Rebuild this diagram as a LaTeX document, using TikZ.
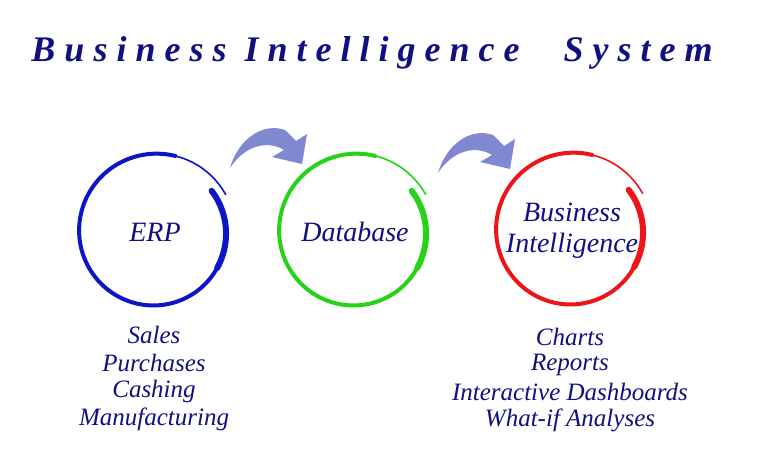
\documentclass[tikz,border=0pt]{standalone}
\usepackage{fontspec}
\setmainfont{Liberation Serif}
\definecolor{navytext}{RGB}{16,16,130}
\definecolor{ERPblue}{RGB}{12,22,200}
\definecolor{DBgreen}{RGB}{40,210,24}
\definecolor{BIred}{RGB}{236,22,26}
\definecolor{arrowblue}{RGB}{128,136,210}
\tikzset{
  label/.style={text=navytext, font=\fontsize{25}{28}\selectfont\itshape, inner sep=0pt},
  ringlabel/.style={text=navytext, font=\fontsize{28}{31}\selectfont\itshape, align=center, inner sep=0pt},
  bendarrow/.pic={
    \fill[arrowblue] (0,0) .. controls (8,-28) and (32,-46) .. (55,-38) -- (66,-27)
      -- (77,-34) -- (72,-4) -- (42,-11) -- (54,-18)
      .. controls (38,-28) and (15,-23) .. (0,0) -- cycle;
  }
}
\begin{document}
\begin{tikzpicture}[x=1pt,y=-1pt]
\useasboundingbox[fill=white] (0,0) rectangle (768,462);
% title
\node[text=navytext, font=\fontsize{36}{40}\selectfont\bfseries\itshape\addfontfeature{LetterSpace=25}, anchor=base] (title) at (372,62) {Business Intelligence\hspace{26pt} System};
% rings
\node[ringlabel] (erp) at (155,232) {ERP};
\node[ringlabel] (db) at (355,232) {Database};
\node[ringlabel] (bi) at (572,231) {Business\\Intelligence};
\foreach \nm/\col in {erp/ERPblue, db/DBgreen, bi/BIred}{
  \begin{scope}[shift={(\nm.center)}, \col, line cap=round]
    \draw[line width=1.6pt] plot[smooth, domain=28:75, samples=12] ({(80-10*(\x-28)/370)*cos(\x)}, {-(80-10*(\x-28)/370)*sin(\x)});
    \draw[line width=4pt] plot[smooth, domain=75:330, samples=50] ({(80-10*(\x-28)/370)*cos(\x)}, {-(80-10*(\x-28)/370)*sin(\x)});
    \draw[line width=6pt] plot[smooth, domain=330:396, samples=15] ({(80-10*(\x-28)/370)*cos(\x)}, {-(80-10*(\x-28)/370)*sin(\x)});
  \end{scope}
}
% arrows between rings
\pic at (230,168) {bendarrow};
\pic at (438,173) {bendarrow};
% lists
\node[label] (sales) at (154,335) {Sales};
\node[label] (purch) at (154,363) {Purchases};
\node[label] (cash) at (154,391) {Cashing};
\node[label] (manu) at (154,419) {Manufacturing};
\node[label] (charts) at (570,337) {Charts};
\node[label] (reports) at (570,365) {Reports};
\node[label] (dash) at (570,392) {Interactive Dashboards};
\node[label] (whatif) at (570,420) {What-if Analyses};
\end{tikzpicture}
\end{document}
